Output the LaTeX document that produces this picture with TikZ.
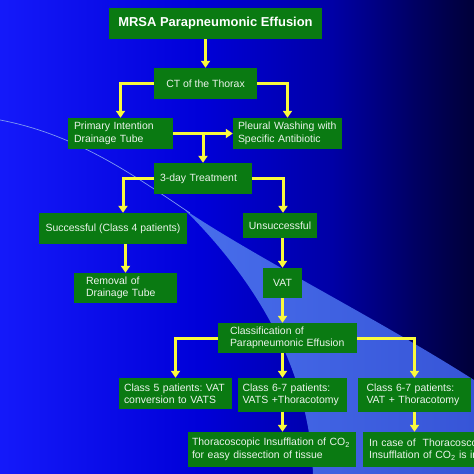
\documentclass[tikz,border=0pt]{standalone}
\usepackage{fontspec}
\setmainfont{Liberation Sans}
\usetikzlibrary{arrows.meta}
\frenchspacing
\definecolor{boxgreen}{RGB}{10,122,18}
\definecolor{arrowyellow}{RGB}{250,250,60}
\definecolor{boxtext}{RGB}{236,244,236}
\definecolor{swoosh}{RGB}{72,110,236}
\definecolor{swooshdark}{RGB}{55,85,215}
\pgfdeclarehorizontalshading{slidebg}{100bp}{rgb(0bp)=(0.08,0.1,0.98); rgb(25bp)=(0.08,0.1,0.98); rgb(46bp)=(0,0,0.85); rgb(60bp)=(0,0,0.65); rgb(69bp)=(0,0,0.38); rgb(75bp)=(0,0,0.22); rgb(100bp)=(0,0,0.22)}
\tikzset{
  stage/.style={fill=boxgreen, text=boxtext, inner sep=0pt, align=left,
    font=\fontsize{10.5}{12.5}\selectfont},
  flow/.style={draw=arrowyellow, line width=3bp, -{Triangle[width=9bp,length=7bp]}},
}
\begin{document}
\begin{tikzpicture}[x=1bp,y=-1bp]
\useasboundingbox (0,0) rectangle (474,474);
\clip (0,0) rectangle (474,474);
\shade[shading=slidebg] (0,0) rectangle (474,474);
\shade[left color=swoosh, right color=swooshdark] (185,210) .. controls (260,260) and (380,320) .. (474,380)
  -- (474,474) -- (313,474) .. controls (310,390) and (275,300) .. (185,210);
\draw[swoosh!70!white, line width=0.7bp] (0,120) .. controls (80,135) and (140,180) .. (190,213);

\node[stage, align=center, minimum width=213bp, minimum height=31bp, text=white,
  font=\fontsize{13}{15}\selectfont\bfseries] (mrsa) at (215.5,23.5) {MRSA Parapneumonic Effusion};
\node[stage, align=center, minimum width=103bp, minimum height=31bp] (ct) at (205.5,83.5) {CT of the Thorax};
\node[stage, minimum width=105bp, minimum height=31bp, text width=93bp] (primary) at (120.5,133.5) {Primary Intention\\Drainage Tube};
\node[stage, minimum width=109bp, minimum height=31bp, text width=99bp] (pleural) at (287.5,133.5) {Pleural Washing with\\Specific Antibiotic};
\node[stage, minimum width=98bp, minimum height=31bp, text width=86bp] (treat) at (203,178.5) {3-day Treatment};
\node[stage, align=center, minimum width=148bp, minimum height=31bp] (success) at (113,228.5) {Successful (Class 4 patients)};
\node[stage, align=center, minimum width=74bp, minimum height=25bp] (unsucc) at (280,225.5) {Unsuccessful};
\node[stage, minimum width=103bp, minimum height=30bp, text width=79bp] (removal) at (125.5,288) {Removal of\\Drainage Tube};
\node[stage, align=center, minimum width=39bp, minimum height=30bp] (vat) at (282.5,283) {VAT};
\node[stage, minimum width=139bp, minimum height=30bp, text width=115bp] (classif) at (287.5,338) {Classification of\\Parapneumonic Effusion};
\node[stage, minimum width=113bp, minimum height=31bp, text width=103bp] (class5) at (175.5,393.5) {Class 5 patients: VAT\\conversion to VATS};
\node[stage, minimum width=109bp, minimum height=34bp, text width=100bp] (vats) at (292.5,395) {Class 6-7 patients:\\VATS +Thoracotomy};
\node[stage, minimum width=113bp, minimum height=34bp, text width=96bp] (vatth) at (414.5,395) {Class 6-7 patients:\\VAT + Thoracotomy};
\node[stage, minimum width=168bp, minimum height=35bp, text width=160bp] (insuff) at (272,449.5) {Thoracoscopic Insufflation of CO\textsubscript{2}\\for easy dissection of tissue};
\node[stage, anchor=west, minimum width=180bp, minimum height=35bp, text width=168bp] (incase) at (363,449.5) {In case of\ \ Thoracoscopy\\Insufflation of CO\textsubscript{2} is ineffective};

\draw[flow] (mrsa.south -| ct.north) -- (ct.north);
\draw[flow] (ct.west) -| (primary.north);
\draw[flow] (ct.east) -| (pleural.north);
\draw[flow] (primary.east) -- (pleural.west);
\coordinate (split) at (primary.east -| treat.north);
\draw[flow] (split) -- (treat.north);
\draw[flow] (treat.west) -| ([xshift=10bp]success.north);
\draw[flow] (treat.east) -| ([xshift=3bp]unsucc.north);
\draw[flow] (success.south -| removal.north) -- (removal.north);
\draw[flow] (unsucc.south -| vat.north) -- (vat.north);
\draw[flow] (vat.south) -- (vat.south |- classif.north);
\draw[flow] (classif.west) -| (class5.north);
\draw[flow] (classif.east) -| (vatth.north);
\draw[flow] (classif.south -| vat.south) -- (vats.north -| vat.south);
\draw[flow] (vats.south -| vat.south) -- (insuff.north -| vat.south);
\draw[flow] (vatth.south) -- (vatth.south |- incase.north);
\end{tikzpicture}
\end{document}
